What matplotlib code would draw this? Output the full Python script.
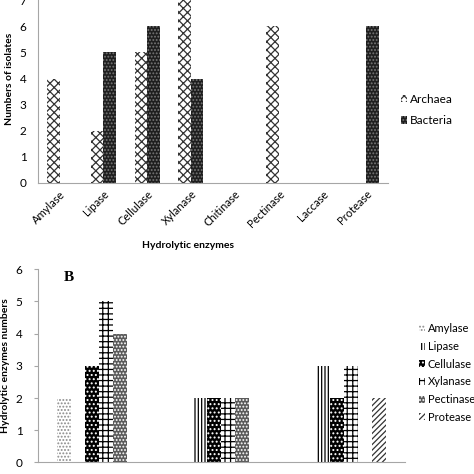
import matplotlib
matplotlib.use('Agg')
import numpy as np
import matplotlib.pyplot as plt
from matplotlib.patches import Patch

plt.rcParams['font.family'] = ['Lato', 'DejaVu Sans']
plt.rcParams['hatch.linewidth'] = 0.9

# panel A data
enzymes = ['Amylase', 'Lipase', 'Cellulase', 'Xylanase', 'Chitinase', 'Pectinase', 'Laccase', 'Protease']
archaea = [4, 2, 5, 7, 0, 6, 0, 0]
bacteria = [0, 5, 6, 4, 0, 0, 0, 6]

# panel B data (3 groups, one series per enzyme)
b_series = ['Amylase', 'Lipase', 'Cellulase', 'Xylanase', 'Pectinase', 'Protease']
amylase_b = [2, 0, 0]
lipase_b = [0, 2, 3]
cellulase_b = [3, 2, 2]
xylanase_b = [5, 2, 3]
pectinase_b = [4, 2, 0]
protease_b = [0, 0, 2]

grey = '#a6a6a6'
fig = plt.figure(figsize=(4.74, 4.74), dpi=100)

arch_style = dict(facecolor='white', edgecolor='#333333', hatch='xxxx')
bact_style = dict(facecolor='#1e1e1e', edgecolor='#777777', hatch='.....')

# ---- panel A ----
ax1 = fig.add_axes([0.0795, 0.614, 0.739, 0.4405])
x = np.arange(len(enzymes))
w = 0.285
ax1.bar(x - w / 2, archaea, w, linewidth=0, **arch_style)
ax1.bar(x + w / 2, bacteria, w, linewidth=0, **bact_style)
ax1.set_xlim(-0.5, len(enzymes) - 0.5)
ax1.set_ylim(0, 8)
ax1.set_yticks(range(0, 9))
ax1.set_xticks(x)
ax1.set_xticklabels(enzymes, rotation=45, ha='right', rotation_mode='anchor', fontsize=8)
ax1.tick_params(axis='y', labelsize=8.5, length=0, pad=8)
ax1.tick_params(axis='x', length=0, pad=4)
ax1.set_ylabel('Numbers of isolates', fontsize=7.5, fontweight='bold', labelpad=4)
for s in ['top', 'right']:
    ax1.spines[s].set_visible(False)
for s in ['left', 'bottom']:
    ax1.spines[s].set_color(grey)
fig.text(188 / 474, 1 - 246 / 474, 'Hydrolytic enzymes', fontsize=7.5, fontweight='bold',
         ha='center', va='center')
fig.legend(handles=[Patch(linewidth=0, label='Archaea', **arch_style),
                    Patch(linewidth=0, label='Bacteria', **bact_style)],
           loc='center left', bbox_to_anchor=(390 / 474, 1 - 110 / 474), frameon=False, fontsize=8.5,
           handlelength=0.5, handleheight=0.6, handletextpad=0.3, labelspacing=0.9)

# ---- panel B ----
ax2 = fig.add_axes([0.080, 0.0243, 0.774, 0.4076])
g = np.arange(3)
bw = 0.115
b_values = [amylase_b, lipase_b, cellulase_b, xylanase_b, pectinase_b, protease_b]
b_styles = [
    dict(facecolor='white', edgecolor='#8a8a8a', hatch='.....'),
    dict(facecolor='white', edgecolor='black', hatch='|||||'),
    dict(facecolor='black', edgecolor='white', hatch='....'),
    dict(facecolor='white', edgecolor='black', hatch='+++'),
    dict(facecolor='#5a5a5a', edgecolor='white', hatch='.....'),
    dict(facecolor='white', edgecolor='#333333', hatch='//////'),
]
handles = []
for i, (vals, st, name) in enumerate(zip(b_values, b_styles, b_series)):
    ax2.bar(g + (i - 2.5) * bw, vals, bw, linewidth=0, **st)
    handles.append(Patch(linewidth=0, label=name, **st))
ax2.set_xlim(-0.5, 2.5)
ax2.set_ylim(0, 6)
ax2.set_yticks(range(0, 7))
ax2.set_xticks([-0.5, 0.5, 1.5, 2.5])
ax2.set_xticklabels([])
ax2.tick_params(axis='y', labelsize=8.5, length=3, color=grey, pad=8)
ax2.tick_params(axis='x', length=0)
ax2.set_ylabel('Hydrolytic enzymes numbers', fontsize=7.5, fontweight='bold', labelpad=4)
for s in ['top', 'right']:
    ax2.spines[s].set_visible(False)
for s in ['left', 'bottom']:
    ax2.spines[s].set_color(grey)
ax2.text(0.07, 0.99, 'B', transform=ax2.transAxes, fontsize=11, fontweight='bold',
         family='Liberation Serif', va='top', ha='left')
fig.legend(handles=handles, loc='center left', bbox_to_anchor=(409 / 474, 1 - 373 / 474), frameon=False,
           fontsize=8, handlelength=0.5, handleheight=0.6, handletextpad=0.3, labelspacing=0.6)

fig.savefig('out.png', dpi=100)
